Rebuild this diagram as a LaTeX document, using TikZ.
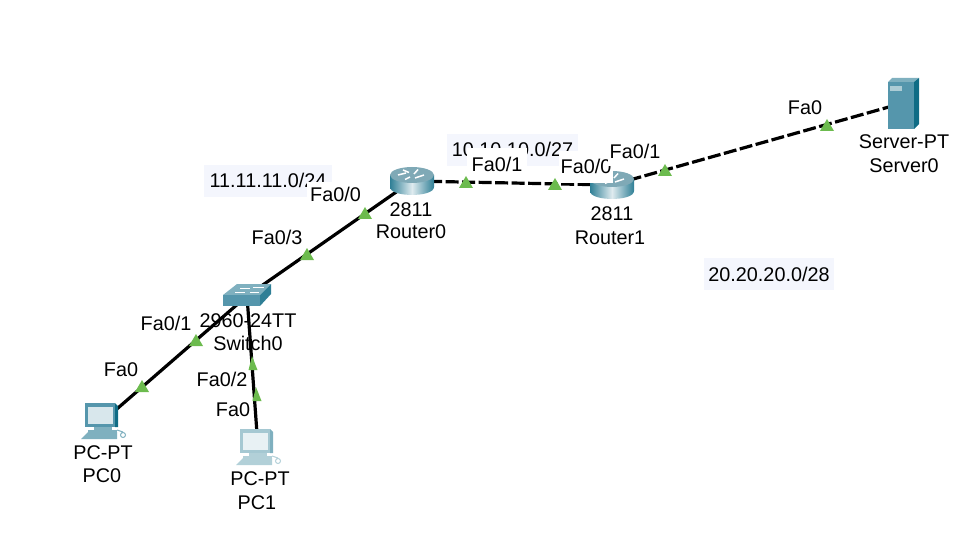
\documentclass[tikz,border=0pt]{standalone}
\usepackage{fontspec}
\setmainfont{Liberation Sans}
\definecolor{portgreen}{HTML}{6CBB4E}
\definecolor{teal1}{HTML}{5596AC}
\definecolor{teal2}{HTML}{2F7F96}
\definecolor{teal3}{HTML}{0F6C85}
\definecolor{teal4}{HTML}{7FB0BF}
\definecolor{notebg}{HTML}{F4F6FD}
\colorlet{pcframe}{teal1}
\colorlet{pcside}{teal3}
\colorlet{pcscreen}{white!70!teal4}
\colorlet{pcbase}{teal4}
\tikzset{
  x=1pt,y=-1pt,
  devnode/.style={inner sep=0pt,minimum size=1pt},
  txt/.style={font=\fontsize{19.8}{20}\selectfont,inner sep=0pt,text height=14pt,text depth=0pt},
  iflabel/.style={txt,fill=white,inner xsep=1pt,minimum height=24pt},
  ifbox/.style={font=\fontsize{19.8}{20}\selectfont,inner sep=0pt,fill=white,anchor=base},
  notebox/.style={txt,fill=notebg,minimum height=32pt},
  link/.style={line width=3.2pt,black},
  dashlink/.style={link,dash pattern=on 13pt off 3.5pt},
  portmark/.pic={\fill[portgreen] (-7,6) -- (0,-6) -- (7,6) -- cycle;},
  portnarrow/.pic={\fill[portgreen] (-4.5,7) -- (-1,-7) -- (4.5,7) -- cycle;},
  routericon/.pic={
    \shade[left color=teal2,right color=teal2,middle color=white!75!teal4]
      (-22,-6) -- (-22,6) .. controls (-22,16.6) and (22,16.6) .. (22,6) -- (22,-6) -- cycle;
    \fill[teal4!85!gray] (0,-6) ellipse [x radius=22,y radius=8];
    \draw[white,line width=1.5pt] (-14,-6) -- (-6,-8) (-9,-11) -- (-3,-8.5) (2,-7) -- (6,-11.5) (3,-3) -- (12,-6) (-7,-1.5) -- (-2,-4);
  },
  switchicon/.pic={
    \fill[teal4] (-24,-1) -- (-10,-12) -- (24,-12) -- (13,-1) -- cycle;
    \fill[teal1] (-24,-1) rectangle (13,10);
    \fill[teal2] (13,-1) -- (24,-12) -- (24,-2) -- (13,10) -- cycle;
    \draw[white,line width=.9pt] (-12,-4) -- (-2,-4) (-7,-8) -- (3,-8) (6,-9) -- (17,-9) (3,-4) -- (12,-4);
  },
  pcicon/.pic={
    \fill[pcside] (12,-18) -- (15,-15) -- (15,6) -- (12,6) -- cycle;
    \fill[pcframe] (-18,-18) rectangle (12,6);
    \fill[pcscreen] (-15,-14) rectangle (10,3);
    \fill[pcbase] (-9,6) rectangle (9,9);
    \fill[pcbase] (-15,9) rectangle (14,11);
    \fill[pcbase] (-22,18) -- (-15,11) -- (14,11) -- (14,18) -- cycle;
    \draw[pcbase,line width=1pt] (20,14) circle [radius=2.5] (14,9) -- (20,11);
  },
  servericon/.pic={
    \fill[teal1] (-15,-21) rectangle (11,26);
    \fill[teal4] (-15,-21) -- (-11,-25) -- (16,-25) -- (11,-21) -- cycle;
    \fill[teal3] (11,-21) -- (16,-25) -- (16,21) -- (11,26) -- cycle;
    \fill[white!35!teal4] (-13,-17) rectangle (-1,-12);
  },
}
\begin{document}
\begin{tikzpicture}
\useasboundingbox (0,0) rectangle (978,559);
% notes
\node[notebox,minimum width=128pt] (n11) at (268,181) {11.11.11.0/24};
\node[notebox,minimum width=131pt] (n10) at (512.5,150) {10.10.10.0/27};
\node[notebox,minimum width=130pt] (n20) at (769,274) {20.20.20.0/28};
% device anchors
\node[devnode] (R0) at (412,181) {};
\node[devnode] (R1) at (612,185) {};
\node[devnode] (SW) at (247,296) {};
\node[devnode] (PC0) at (103,421) {};
\node[devnode] (PC1) at (258,447) {};
\node[devnode] (SRV) at (903,103) {};
% links
\draw[link] (PC0) -- (SW);
\draw[link] (PC1) -- (SW);
\draw[link] (SW) -- (R0);
\draw[dashlink] (R0) -- (R1);
\draw[dashlink] (R1) -- (SRV);
% devices
\pic at (R0) {routericon};
\pic at (R1) {routericon};
\pic at (SW) {switchicon};
\pic at (PC0) {pcicon};
\colorlet{pcframe}{white!30!teal4}
\colorlet{pcside}{teal4}
\colorlet{pcscreen}{white!82!teal4}
\colorlet{pcbase}{white!40!teal4}
\pic at (PC1) {pcicon};
\pic at (SRV) {servericon};
% device labels
\node[txt] (lsw1) at (248,320) {2960-24TT};
\node[txt] (lsw2) at (248,343) {Switch0};
\node[txt] (lpc0a) at (103,452) {PC-PT};
\node[txt] (lpc0b) at (102,475) {PC0};
\node[txt] (lpc1a) at (260,478) {PC-PT};
\node[txt] (lpc1b) at (257,502) {PC1};
\node[txt] (lr0a) at (411,209) {2811};
\node[txt] (lr0b) at (411,232) {Router0};
\node[txt] (lr1a) at (612,213) {2811};
\node[txt] (lr1b) at (610,237) {Router1};
\node[txt] (lsa) at (904,142) {Server-PT};
\node[txt] (lsb) at (904,166) {Server0};
% port markers
\pic at (142,386) {portmark};
\pic at (196,340) {portmark};
\pic at (253,363) {portnarrow};
\pic at (257,394) {portnarrow};
\pic at (307,254) {portmark};
\pic at (365,213) {portmark};
\pic at (466,182) {portmark};
\pic at (555,184) {portmark};
\pic at (665,170) {portmark};
\pic at (827,125) {portmark};
% interface labels
\node[iflabel] (p1) at (121,369) {Fa0};
\node[iflabel] (p2) at (166,323) {Fa0/1};
\node[iflabel] (p3) at (222,379) {Fa0/2};
\node[iflabel] (p4) at (233,409) {Fa0};
\node[iflabel] (p5) at (277,237) {Fa0/3};
\node[ifbox,text height=20pt,text depth=6pt,minimum width=57pt] (p6) at (335.5,202) {Fa0/0};
\node[ifbox,text height=24pt,text depth=4pt,minimum width=60pt] (p7) at (497,172) {Fa0/1};
\node[ifbox,text height=23pt,text depth=9pt,minimum width=54pt] (p8) at (586,174) {Fa0/0};
\node[ifbox,text height=23pt,text depth=7pt,minimum width=54pt] (p9) at (635,159) {Fa0/1};
\node[iflabel] (p10) at (805,108) {Fa0};
\end{tikzpicture}
\end{document}
